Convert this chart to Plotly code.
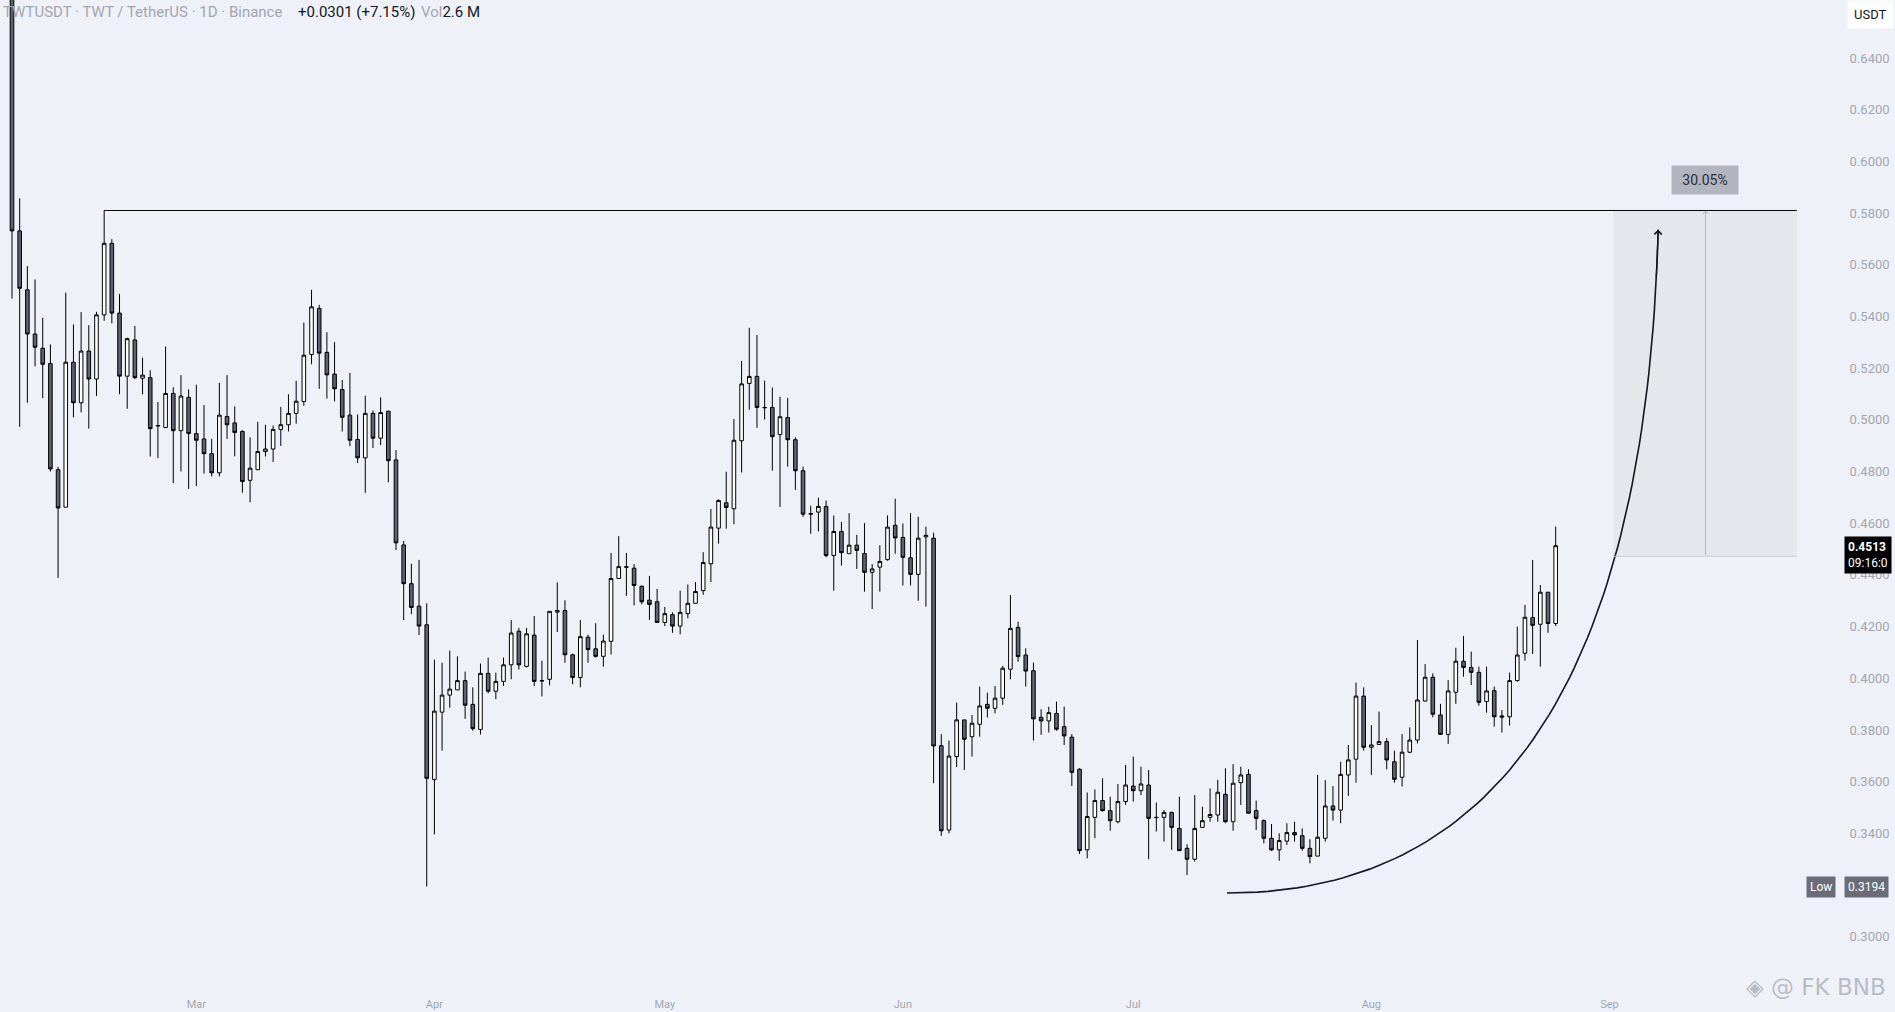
import numpy as np
import pandas as pd
import plotly.graph_objects as go

# ---------------- data (daily candles) ----------------
start_date = "2023-02-05"
opens = [0.7000, 0.5731, 0.5503, 0.5332, 0.5277, 0.5218, 0.4807, 0.4662, 0.5223, 0.5066,
         0.5266, 0.5158, 0.5406, 0.5683, 0.5413, 0.5169, 0.5309, 0.5161, 0.5163, 0.4976,
         0.4970, 0.5102, 0.4958, 0.5087, 0.4947, 0.4926, 0.4869, 0.4795, 0.5013, 0.4988,
         0.4955, 0.4766, 0.4807, 0.4877, 0.4887, 0.4963, 0.4981, 0.5025, 0.5071, 0.5253,
         0.5431, 0.5261, 0.5177, 0.5117, 0.5018, 0.4924, 0.4853, 0.5025, 0.4929, 0.5033,
         0.4845, 0.4516, 0.4366, 0.4279, 0.4207, 0.3608, 0.3869, 0.3935, 0.3955, 0.3991,
         0.3899, 0.3802, 0.4019, 0.3950, 0.3988, 0.4052, 0.4182, 0.4046, 0.4167, 0.3991,
         0.3996, 0.4256, 0.4262, 0.4091, 0.4003, 0.4159, 0.4114, 0.4085, 0.4143, 0.4386,
         0.4432, 0.4426, 0.4356, 0.4302, 0.4296, 0.4216, 0.4246, 0.4202, 0.4250, 0.4290,
         0.4339, 0.4443, 0.4581, 0.4679, 0.4656, 0.4919, 0.5141, 0.5168, 0.5048, 0.5048,
         0.4943, 0.5009, 0.4923, 0.4803, 0.4635, 0.4643, 0.4665, 0.4475, 0.4568, 0.4482,
         0.4515, 0.4483, 0.4410, 0.4430, 0.4459, 0.4592, 0.4545, 0.4466, 0.4402, 0.4547,
         0.4542, 0.3739, 0.3413, 0.3697, 0.3839, 0.3774, 0.3822, 0.3899, 0.3884, 0.3923,
         0.4035, 0.4197, 0.4090, 0.4029, 0.3849, 0.3835, 0.3864, 0.3813, 0.3772, 0.3648,
         0.3336, 0.3462, 0.3527, 0.3488, 0.3445, 0.3523, 0.3583, 0.3565, 0.3587, 0.3462,
         0.3462, 0.3481, 0.3419, 0.3342, 0.3300, 0.3423, 0.3462, 0.3471, 0.3551, 0.3445,
         0.3596, 0.3628, 0.3488, 0.3449, 0.3381, 0.3336, 0.3370, 0.3403, 0.3391, 0.3342,
         0.3312, 0.3381, 0.3506, 0.3490, 0.3626, 0.3687, 0.3931, 0.3733, 0.3744, 0.3755,
         0.3677, 0.3617, 0.3714, 0.3761, 0.3912, 0.4004, 0.3858, 0.3783, 0.3946, 0.4066,
         0.4042, 0.4023, 0.3910, 0.3952, 0.3849, 0.3851, 0.3991, 0.4097, 0.4235, 0.4209,
         0.4333, 0.4212]
highs = [0.7120, 0.5857, 0.5595, 0.5543, 0.5395, 0.5292, 0.4818, 0.5492, 0.5369, 0.5417,
         0.5366, 0.5418, 0.5810, 0.5699, 0.5487, 0.5318, 0.5363, 0.5240, 0.5192, 0.5069,
         0.5284, 0.5126, 0.5173, 0.5118, 0.5136, 0.5057, 0.4926, 0.5143, 0.5173, 0.5052,
         0.4961, 0.4932, 0.4992, 0.4981, 0.4978, 0.5050, 0.5099, 0.5151, 0.5376, 0.5503,
         0.5445, 0.5339, 0.5301, 0.5154, 0.5181, 0.5021, 0.5093, 0.5036, 0.5087, 0.5036,
         0.4883, 0.4531, 0.4443, 0.4458, 0.4290, 0.4072, 0.4060, 0.4107, 0.4085, 0.4026,
         0.3965, 0.4057, 0.4080, 0.4022, 0.4080, 0.4225, 0.4195, 0.4195, 0.4241, 0.4068,
         0.4259, 0.4371, 0.4302, 0.4095, 0.4225, 0.4169, 0.4213, 0.4169, 0.4485, 0.4550,
         0.4485, 0.4442, 0.4359, 0.4396, 0.4346, 0.4276, 0.4255, 0.4339, 0.4363, 0.4372,
         0.4488, 0.4655, 0.4692, 0.4799, 0.5003, 0.5228, 0.5356, 0.5328, 0.5152, 0.5125,
         0.5089, 0.5085, 0.4932, 0.4819, 0.4668, 0.4699, 0.4688, 0.4630, 0.4605, 0.4639,
         0.4555, 0.4601, 0.4442, 0.4515, 0.4630, 0.4695, 0.4599, 0.4639, 0.4625, 0.4587,
         0.4563, 0.3784, 0.3759, 0.3906, 0.3839, 0.3858, 0.3968, 0.3944, 0.3970, 0.4048,
         0.4322, 0.4219, 0.4116, 0.4061, 0.3880, 0.3890, 0.3910, 0.3890, 0.3784, 0.3652,
         0.3558, 0.3570, 0.3613, 0.3542, 0.3591, 0.3665, 0.3697, 0.3658, 0.3645, 0.3519,
         0.3490, 0.3484, 0.3542, 0.3358, 0.3548, 0.3503, 0.3574, 0.3607, 0.3652, 0.3668,
         0.3658, 0.3648, 0.3527, 0.3454, 0.3436, 0.3400, 0.3439, 0.3445, 0.3419, 0.3377,
         0.3626, 0.3606, 0.3583, 0.3677, 0.3742, 0.3983, 0.3965, 0.3819, 0.3871, 0.3768,
         0.3720, 0.3784, 0.3810, 0.4148, 0.4055, 0.4019, 0.3901, 0.3993, 0.4118, 0.4164,
         0.4103, 0.4045, 0.4045, 0.3968, 0.3877, 0.4022, 0.4200, 0.4284, 0.4458, 0.4361,
         0.4333, 0.4587]
lows = [0.5469, 0.4973, 0.5066, 0.5207, 0.5084, 0.4800, 0.4388, 0.4662, 0.5010, 0.5029,
        0.4966, 0.5092, 0.5383, 0.5373, 0.5099, 0.5043, 0.5158, 0.5099, 0.4858, 0.4852,
        0.4970, 0.4755, 0.4800, 0.4733, 0.4744, 0.4792, 0.4781, 0.4781, 0.4926, 0.4859,
        0.4718, 0.4681, 0.4807, 0.4858, 0.4837, 0.4899, 0.4955, 0.4985, 0.5054, 0.5215,
        0.5120, 0.5082, 0.5071, 0.4955, 0.4898, 0.4833, 0.4718, 0.4891, 0.4902, 0.4758,
        0.4496, 0.4225, 0.4248, 0.4167, 0.3194, 0.3396, 0.3720, 0.3886, 0.3955, 0.3843,
        0.3797, 0.3782, 0.3942, 0.3919, 0.3970, 0.3996, 0.4034, 0.4042, 0.3970, 0.3930,
        0.3973, 0.4179, 0.4060, 0.3977, 0.3965, 0.4060, 0.4080, 0.4045, 0.4092, 0.4386,
        0.4319, 0.4282, 0.4286, 0.4226, 0.4216, 0.4202, 0.4176, 0.4170, 0.4232, 0.4290,
        0.4323, 0.4372, 0.4521, 0.4579, 0.4596, 0.4796, 0.5039, 0.4969, 0.5001, 0.4803,
        0.4663, 0.4819, 0.4729, 0.4625, 0.4559, 0.4568, 0.4468, 0.4339, 0.4436, 0.4482,
        0.4423, 0.4335, 0.4268, 0.4335, 0.4455, 0.4482, 0.4359, 0.4359, 0.4300, 0.4277,
        0.3594, 0.3390, 0.3400, 0.3656, 0.3645, 0.3697, 0.3774, 0.3848, 0.3864, 0.3897,
        0.3996, 0.4064, 0.3968, 0.3759, 0.3781, 0.3790, 0.3797, 0.3742, 0.3583, 0.3320,
        0.3303, 0.3381, 0.3484, 0.3410, 0.3439, 0.3510, 0.3523, 0.3548, 0.3300, 0.3407,
        0.3368, 0.3336, 0.3333, 0.3239, 0.3291, 0.3423, 0.3445, 0.3445, 0.3439, 0.3410,
        0.3510, 0.3478, 0.3413, 0.3361, 0.3332, 0.3294, 0.3355, 0.3368, 0.3333, 0.3284,
        0.3312, 0.3368, 0.3449, 0.3439, 0.3545, 0.3596, 0.3720, 0.3626, 0.3744, 0.3648,
        0.3596, 0.3581, 0.3710, 0.3748, 0.3910, 0.3849, 0.3783, 0.3746, 0.3901, 0.4006,
        0.3974, 0.3894, 0.3867, 0.3813, 0.3790, 0.3817, 0.3987, 0.4068, 0.4094, 0.4045,
        0.4176, 0.4202]
closes = [0.5731, 0.5509, 0.5332, 0.5281, 0.5215, 0.4810, 0.4659, 0.5223, 0.5066, 0.5266,
          0.5158, 0.5406, 0.5683, 0.5413, 0.5169, 0.5314, 0.5163, 0.5173, 0.4966, 0.4978,
          0.5102, 0.4958, 0.5092, 0.4947, 0.4921, 0.4869, 0.4795, 0.5018, 0.4981, 0.4951,
          0.4761, 0.4813, 0.4877, 0.4887, 0.4963, 0.4981, 0.5025, 0.5072, 0.5250, 0.5437,
          0.5258, 0.5174, 0.5120, 0.5010, 0.4921, 0.4853, 0.5025, 0.4929, 0.5028, 0.4842,
          0.4524, 0.4366, 0.4274, 0.4202, 0.3613, 0.3873, 0.3935, 0.3958, 0.3991, 0.3896,
          0.3805, 0.4019, 0.3950, 0.3988, 0.4052, 0.4175, 0.4052, 0.4172, 0.3988, 0.3990,
          0.4259, 0.4262, 0.4091, 0.4003, 0.4161, 0.4111, 0.4085, 0.4144, 0.4386, 0.4432,
          0.4430, 0.4359, 0.4296, 0.4286, 0.4216, 0.4250, 0.4202, 0.4255, 0.4290, 0.4336,
          0.4448, 0.4585, 0.4688, 0.4661, 0.4921, 0.5139, 0.5168, 0.5048, 0.5047, 0.4935,
          0.5012, 0.4923, 0.4803, 0.4635, 0.4637, 0.4665, 0.4475, 0.4568, 0.4486, 0.4515,
          0.4495, 0.4410, 0.4423, 0.4452, 0.4585, 0.4543, 0.4468, 0.4402, 0.4542, 0.4553,
          0.3738, 0.3410, 0.3699, 0.3839, 0.3764, 0.3826, 0.3893, 0.3884, 0.3923, 0.4039,
          0.4193, 0.4084, 0.4028, 0.3843, 0.3835, 0.3867, 0.3803, 0.3777, 0.3636, 0.3333,
          0.3465, 0.3527, 0.3488, 0.3449, 0.3523, 0.3587, 0.3565, 0.3591, 0.3458, 0.3461,
          0.3481, 0.3423, 0.3333, 0.3300, 0.3419, 0.3449, 0.3473, 0.3559, 0.3445, 0.3594,
          0.3626, 0.3478, 0.3458, 0.3381, 0.3336, 0.3372, 0.3403, 0.3394, 0.3342, 0.3310,
          0.3385, 0.3506, 0.3490, 0.3628, 0.3684, 0.3931, 0.3733, 0.3742, 0.3755, 0.3684,
          0.3609, 0.3714, 0.3761, 0.3916, 0.4004, 0.3861, 0.3783, 0.3951, 0.4066, 0.4042,
          0.4023, 0.3907, 0.3951, 0.3851, 0.3854, 0.3991, 0.4090, 0.4236, 0.4205, 0.4333,
          0.4212, 0.4513]

# visible price-scale labels (0.3200 is covered by the "Low" tag in the original)
price_ticks = [0.30, 0.34, 0.36, 0.38, 0.40, 0.42, 0.44, 0.46, 0.48,
               0.50, 0.52, 0.54, 0.56, 0.58, 0.60, 0.62, 0.64]
month_ticks = ["2023-03-01", "2023-04-01", "2023-05-01", "2023-06-01",
               "2023-07-01", "2023-08-01", "2023-09-01"]
month_labels = ["Mar", "Apr", "May", "Jun", "Jul", "Aug", "Sep"]

symbol_text = "TWTUSDT · TWT / TetherUS · 1D · Binance"
change_text = "+0.0301 (+7.15%)"
vol_label = "Vol"
vol_value = "2.6 M"
currency_text = "USDT"
countdown_text = "09:16:0"
low_label = "Low"
measure_text = "30.05%"
watermark_text = "@ FK BNB"

# drawings (day offset from start, price)
resistance_index = 12
measure_start_day, measure_end_day, measure_mid_day = 208.5, 232.4, 220.5
measure_bottom = 0.4472
curve_days = [158.2, 212.0, 214.35]
curve_prices = [0.3169, 0.3169, 0.5736]

# ---------------- figure ----------------
W, H = 1895, 1012
ML, MR, MT, MB = 0, 53, 0, 27
plot_w = W - ML - MR
px_per_day = 7.68
first_px = 12.0

start = pd.Timestamp(start_date)
dates = pd.date_range(start, periods=len(opens), freq="D")
day = lambda d: start + pd.to_timedelta(d, unit="D")

x_left = day(-first_px / px_per_day)
x_right = day((plot_w - first_px) / px_per_day)
y_top = 0.66244
y_bot = y_top - (H - MT - MB) / 2584.5

BG = "#eef1f8"
DOWN = "#5d6170"
GREY_TXT = "#a3a6af"

fig = go.Figure()

# measuring box (drawn beneath candles)
fig.add_shape(type="rect", x0=day(measure_start_day), x1=day(measure_end_day),
              y0=measure_bottom, y1=highs[resistance_index],
              fillcolor="#e5e7ec", line=dict(width=0), layer="below")
fig.add_shape(type="line", x0=day(measure_start_day), x1=day(measure_end_day),
              y0=measure_bottom, y1=measure_bottom, line=dict(color="#c9cbd1", width=1))

fig.add_trace(go.Candlestick(
    x=dates, open=opens, high=highs, low=lows, close=closes,
    increasing=dict(fillcolor="#ffffff", line=dict(color="#000000", width=1)),
    decreasing=dict(fillcolor=DOWN, line=dict(color="#000000", width=1)),
    whiskerwidth=0, showlegend=False, hoverinfo="skip"))

# resistance line
fig.add_shape(type="line", x0=dates[resistance_index], x1=day(measure_end_day),
              y0=highs[resistance_index], y1=highs[resistance_index],
              line=dict(color="#000000", width=1))

# measure vertical line with arrow head
fig.add_annotation(x=day(measure_mid_day), y=highs[resistance_index],
                   ax=day(measure_mid_day), ay=measure_bottom,
                   axref="x", ayref="y", xref="x", yref="y",
                   showarrow=True, arrowhead=4, arrowsize=1.0, arrowwidth=1,
                   arrowcolor="#b6b9c1", text="")

# curved arrow (quadratic Bezier)
t = np.linspace(0, 1, 80)
bd = (1 - t) ** 2 * curve_days[0] + 2 * t * (1 - t) * curve_days[1] + t ** 2 * curve_days[2]
bp = (1 - t) ** 2 * curve_prices[0] + 2 * t * (1 - t) * curve_prices[1] + t ** 2 * curve_prices[2]
fig.add_trace(go.Scatter(x=[day(v) for v in bd], y=bp, mode="lines",
                         line=dict(color="#131722", width=1.6), showlegend=False,
                         hoverinfo="skip"))
fig.add_annotation(x=day(bd[-1]), y=bp[-1], ax=day(bd[-4]), ay=bp[-4],
                   axref="x", ayref="y", xref="x", yref="y",
                   showarrow=True, arrowhead=4, arrowsize=1.1, arrowwidth=1.3,
                   arrowcolor="#131722", text="")

# measure label
fig.add_annotation(x=day(measure_mid_day), y=highs[resistance_index], yshift=30,
                   text=measure_text, showarrow=False, width=60, height=22,
                   font=dict(family="Roboto", size=14, color="#2a2e39"),
                   bgcolor="#b2b5be", borderpad=3, xanchor="center", yanchor="middle")

# header
fig.add_annotation(xref="paper", yref="paper", x=0.0005, y=1, yshift=-1,
                   xanchor="left", yanchor="top", showarrow=False,
                   text=symbol_text, font=dict(family="Roboto", size=15, color=GREY_TXT))
fig.add_annotation(xref="paper", yref="paper", x=296 / plot_w, y=1, yshift=-1,
                   xanchor="left", yanchor="top", showarrow=False,
                   text=change_text, font=dict(family="Roboto", size=15, color="#131722"))
fig.add_annotation(xref="paper", yref="paper", x=419 / plot_w, y=1, yshift=-1,
                   xanchor="left", yanchor="top", showarrow=False,
                   text=f"<span style='color:{GREY_TXT}'>{vol_label}</span>{vol_value}",
                   font=dict(family="Roboto", size=15, color="#131722"))

# right scale labels
fig.add_annotation(xref="paper", yref="paper", x=1847 / plot_w, y=1, yshift=0,
                   xanchor="left", yanchor="top", showarrow=False,
                   text=currency_text, font=dict(family="Roboto", size=13, color="#131722"),
                   bgcolor="#ffffff", borderpad=6)
fig.add_annotation(xref="paper", yref="y", x=1844 / plot_w, y=closes[-1], yshift=-9,
                   xanchor="left", yanchor="middle", showarrow=False, align="left",
                   text=f"<b>{closes[-1]:.4f}</b><br>{countdown_text}",
                   font=dict(family="Roboto", size=12, color="#ffffff"),
                   bgcolor="#000000", borderpad=3)
fig.add_annotation(xref="paper", yref="y", x=1836 / plot_w, y=min(lows),
                   xanchor="right", yanchor="middle", showarrow=False,
                   text=low_label, font=dict(family="Roboto", size=12, color="#ffffff"),
                   bgcolor="#6a6d78", borderpad=3)
fig.add_annotation(xref="paper", yref="y", x=1844 / plot_w, y=min(lows),
                   xanchor="left", yanchor="middle", showarrow=False,
                   text=f"{min(lows):.4f}", font=dict(family="Roboto", size=12, color="#ffffff"),
                   bgcolor="#6a6d78", borderpad=3)

# watermark
fig.add_annotation(xref="paper", yref="paper", x=1888 / plot_w, y=0, yshift=-2,
                   xanchor="right", yanchor="middle", showarrow=False,
                   text="◈ " + watermark_text,
                   font=dict(family="DejaVu Sans", size=23, color="#b9bcc4"))

fig.update_layout(
    width=W, height=H, margin=dict(l=ML, r=MR, t=MT, b=MB),
    paper_bgcolor=BG, plot_bgcolor=BG, boxgap=0.33,
    font=dict(family="Roboto", color=GREY_TXT),
    xaxis=dict(type="date", range=[x_left, x_right], rangeslider=dict(visible=False),
               showgrid=False, zeroline=False, showline=False,
               tickvals=month_ticks, ticktext=month_labels,
               ticks="outside", ticklen=9, tickcolor="rgba(0,0,0,0)",
               tickfont=dict(size=11, color=GREY_TXT)),
    yaxis=dict(side="right", range=[y_bot, y_top], showgrid=False, zeroline=False,
               showline=False, tickvals=price_ticks, tickformat=".4f",
               ticks="outside", ticklen=4, tickcolor="rgba(0,0,0,0)",
               tickfont=dict(size=13, color=GREY_TXT)),
)

fig.write_html("out.html", config={"displayModeBar": False},
               post_script="document.body.style.margin='0';document.body.style.overflow='hidden';")
